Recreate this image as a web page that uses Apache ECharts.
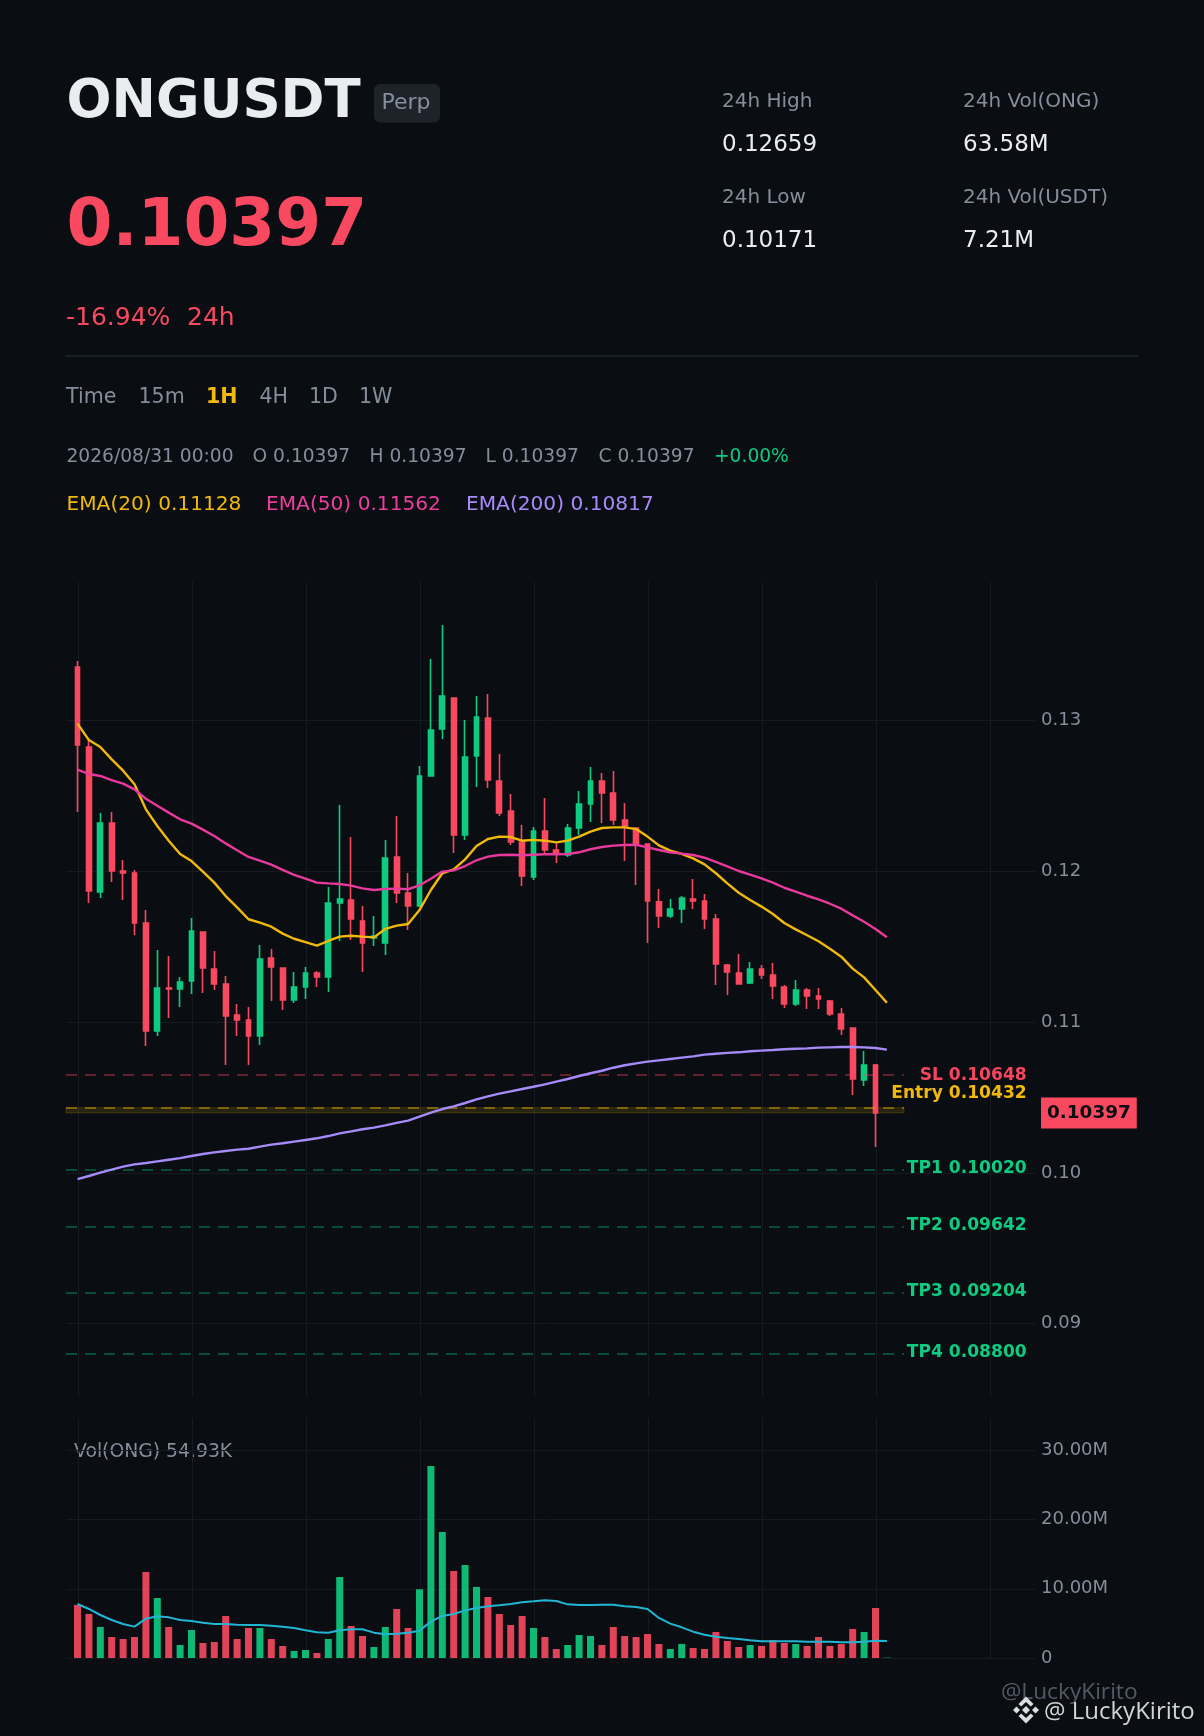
<!DOCTYPE html>
<html>
<head>
<meta charset="utf-8">
<script src="https://cdn.jsdelivr.net/npm/echarts@6/dist/echarts.min.js"></script>
<style>html,body{margin:0;padding:0;background:#0a0d11}#c{width:1204px;height:1736px}</style>
</head>
<body>
<div id="c"></div>
<script>
const opens = [.13353,.12823,.11862,.12319,.12001,.11988,.11656,.10940,.11225,.11219,.11272,.11597,.11351,.11252,.11046,.11013,.10907,.11424,.11358,.11146,.11232,.11325,.11298,.11789,.11809,.11670,.11557,.11524,.12094,.11855,.11769,.12631,.12942,.13148,.12240,.12763,.13015,.12598,.12399,.12193,.11961,.12266,.12140,.12107,.12286,.12445,.12598,.12518,.12339,.12286,.12180,.11796,.11703,.11749,.11815,.11802,.11683,.11378,.11325,.11259,.11351,.11312,.11232,.11119,.11212,.11172,.11139,.11053,.10960,.10616,.10715,.10397];
const closes = [.12836,.11868,.12319,.12001,.11988,.11656,.10940,.11225,.11219,.11265,.11603,.11358,.11252,.11040,.11013,.10907,.11418,.11365,.11146,.11232,.11325,.11298,.11789,.11815,.11683,.11524,.11570,.12087,.11855,.11769,.12631,.12936,.13161,.12240,.12757,.13022,.12604,.12386,.12193,.11968,.12266,.12140,.12114,.12286,.12445,.12598,.12518,.12339,.12293,.12173,.11802,.11703,.11749,.11822,.11802,.11683,.11385,.11331,.11252,.11351,.11312,.11239,.11119,.11212,.11172,.11152,.11053,.10954,.10622,.10715,.10397,.10397];
const lows = [.12392,.11789,.11822,.11928,.11809,.11577,.10841,.10907,.11027,.11099,.11186,.11192,.11212,.10715,.10907,.10715,.10848,.11139,.11080,.11126,.11152,.11232,.11199,.11537,.11544,.11331,.11504,.11444,.11789,.11610,.11760,.12631,.12876,.12120,.12207,.12558,.12551,.12366,.12173,.11902,.11941,.12107,.12054,.12094,.12240,.12326,.12319,.12306,.12067,.11908,.11524,.11623,.11689,.11656,.11749,.11617,.11245,.11179,.11252,.11252,.11285,.11152,.11093,.11106,.11086,.11086,.11040,.10914,.10516,.10576,.10171,.10397];
const highs = [.13393,.12869,.12386,.12392,.12074,.12008,.11742,.11477,.11438,.11298,.11689,.11597,.11471,.11305,.11119,.11099,.11510,.11484,.11358,.11331,.11365,.11338,.11895,.12439,.12226,.11769,.11703,.12207,.12366,.11988,.12697,.13406,.13632,.13148,.13002,.13161,.13174,.12777,.12511,.12306,.12293,.12485,.12187,.12313,.12531,.12690,.12651,.12664,.12452,.12286,.12180,.11882,.11815,.11835,.11948,.11849,.11716,.11385,.11451,.11398,.11378,.11391,.11245,.11278,.11225,.11225,.11146,.11093,.10960,.10808,.10722,.10397];
const volumes = [7.66,6.36,4.48,3.03,2.74,3.03,12.42,8.67,4.48,1.88,4.04,2.17,2.31,6.07,2.74,4.33,4.33,2.74,1.73,1.01,1.16,0.72,2.74,11.70,4.62,3.18,1.59,4.48,7.08,4.33,9.92,27.73,18.20,12.57,13.43,10.26,8.81,6.36,4.77,6.07,4.33,3.03,1.30,1.88,3.32,3.18,1.88,4.48,3.18,3.03,3.47,2.02,1.30,2.02,1.44,1.30,3.76,2.46,1.59,1.88,1.73,2.60,2.17,2.02,1.73,3.03,1.73,2.02,4.19,3.76,7.22,0.055];
const ema20 = [.12978,.12869,.12823,.12741,.12666,.12576,.12410,.12299,.12202,.12114,.12067,.11997,.11924,.11835,.11760,.11681,.11659,.11632,.11586,.11552,.11530,.11506,.11537,.11566,.11572,.11566,.11561,.11617,.11639,.11650,.11742,.11875,.11986,.12012,.12078,.12167,.12213,.12229,.12226,.12202,.12207,.12202,.12191,.12202,.12229,.12262,.12286,.12290,.12290,.12279,.12229,.12171,.12136,.12114,.12085,.12045,.11986,.11919,.11857,.11809,.11765,.11716,.11656,.11614,.11575,.11535,.11486,.11433,.11354,.11296,.11212,.11128];
const ema50 = [.12673,.12644,.12631,.12604,.12580,.12542,.12480,.12434,.12388,.12344,.12315,.12275,.12233,.12184,.12138,.12094,.12070,.12043,.12008,.11975,.11950,.11924,.11919,.11915,.11904,.11886,.11875,.11882,.11884,.11880,.11906,.11950,.11997,.12005,.12034,.12072,.12096,.12107,.12109,.12105,.12109,.12112,.12112,.12114,.12125,.12145,.12160,.12169,.12173,.12175,.12158,.12140,.12125,.12116,.12107,.12089,.12061,.12032,.12001,.11977,.11952,.11924,.11890,.11864,.11837,.11813,.11784,.11751,.11707,.11665,.11617,.11562];
const ema200 = [.09959,.09979,.10001,.10021,.10041,.10056,.10065,.10076,.10087,.10098,.10112,.10125,.10136,.10145,.10154,.10160,.10174,.10187,.10196,.10207,.10218,.10229,.10244,.10262,.10275,.10289,.10300,.10315,.10331,.10346,.10373,.10399,.10423,.10441,.10463,.10487,.10507,.10525,.10540,.10556,.10571,.10587,.10605,.10622,.10642,.10660,.10677,.10697,.10713,.10726,.10737,.10746,.10755,.10764,.10772,.10784,.10790,.10795,.10799,.10806,.10810,.10814,.10819,.10823,.10825,.10830,.10832,.10834,.10834,.10832,.10828,.10817];
const volMa = [7.80,7.08,6.21,5.49,4.91,4.53,5.68,6.02,5.87,5.49,5.34,5.10,4.91,4.91,4.81,4.77,4.77,4.67,4.53,4.33,4.00,3.71,3.66,4.00,4.14,4.14,3.66,3.42,3.51,3.66,3.95,5.25,6.07,6.36,6.88,7.22,7.46,7.61,7.80,8.04,8.18,8.33,8.23,7.75,7.66,7.66,7.68,7.70,7.46,7.37,7.08,5.78,4.96,4.43,3.80,3.37,3.08,2.89,2.74,2.55,2.41,2.41,2.41,2.41,2.36,2.36,2.36,2.26,2.26,2.36,2.50,2.46];
const priceTicks = [0.09,0.10,0.11,0.12,0.13];
const volTicks = [0,10,20,30];
const timeTicks = [0.07,10.07,20.07,30.07,40.07,50.07,60.07,70.07,80.07];
const levels = [
  {name:'SL',value:0.10648,color:'#f6465d',line:'rgba(246,70,93,.5)',dy:0},
  {name:'Entry',value:0.10432,color:'#f0b90b',line:'rgba(240,185,11,.55)',dy:-14},
  {name:'TP1',value:0.10020,color:'#0ecb81',line:'rgba(14,203,129,.45)',dy:-1},
  {name:'TP2',value:0.09642,color:'#0ecb81',line:'rgba(14,203,129,.45)',dy:-1},
  {name:'TP3',value:0.09204,color:'#0ecb81',line:'rgba(14,203,129,.45)',dy:-1},
  {name:'TP4',value:0.08800,color:'#0ecb81',line:'rgba(14,203,129,.45)',dy:-1}
];
const lastPrice = 0.10397;
const RED='#f84960', GREEN='#0ecb81', GRAY='#848e9c', FONT='"DejaVu Sans"';
const xMin=-1.009, xMax=83.991, lineEnd=72.5, labelX=83.26;
const gridColor='#161b22';
const idx = opens.map((_,i)=>i);
const pair = a => a.map((v,i)=>[i,v]);

const xAxisBase = {type:'value',min:xMin,max:xMax,axisLine:{show:false},axisTick:{show:false,customValues:timeTicks},axisLabel:{show:false,customValues:timeTicks},
  splitLine:{show:true,lineStyle:{color:gridColor,width:1}}};

function t(text,x,y,size,fill,weight,family){
  return {type:'text',silent:true,style:{text,x,y,fill,font:`${weight||'normal'} ${size}px ${family||FONT}`,textVerticalAlign:'middle',textAlign:'left'}};
}
const logoFill='#dcdcdc', lx=1026, ly=1710;
function poly(pts){return {type:'polygon',silent:true,shape:{points:pts.map(p=>[lx+p[0],ly+p[1]])},style:{fill:logoFill}};}
const graphics = [
  {type:'rect',silent:true,shape:{x:374,y:84,width:66,height:38.6,r:6},style:{fill:'#1e2329'}},
  {type:'rect',silent:true,shape:{x:65.5,y:355.2,width:1073.5,height:1.6},style:{fill:'#1e2430'}},
  t('ONGUSDT',66.5,103.5,53,'#eaecef','bold'),
  t('Perp',381.5,103,22,GRAY),
  t('0.10397',66.5,227.5,66,RED,'bold'),
  t('-16.94%',66,318,25,RED),
  t('24h',187,318,25,RED),
  t('24h High',722,101.5,20,GRAY), t('24h Vol(ONG)',963,101.5,20,GRAY),
  t('0.12659',722,145,23,'#eaecef'), t('63.58M',963,145,23,'#eaecef'),
  t('24h Low',722,198,20,GRAY), t('24h Vol(USDT)',963,198,20,GRAY),
  t('0.10171',722,241.5,23,'#eaecef'), t('7.21M',963,241.5,23,'#eaecef'),
  t('Time',66,398,20.6,GRAY), t('15m',138.5,398,20.6,GRAY), t('1H',206,398,20.6,'#f0b90b','bold'),
  t('4H',259.5,398,20.6,GRAY), t('1D',309,398,20.6,GRAY), t('1W',359,398,20.6,GRAY),
  t('2026/08/31 00:00',66.5,457,18.65,GRAY), t('O 0.10397',252.5,457,18.65,GRAY), t('H 0.10397',369.5,457,18.65,GRAY),
  t('L 0.10397',485.5,457,18.65,GRAY), t('C 0.10397',598.5,457,18.65,GRAY), t('+0.00%',714,457,18.65,GREEN),
  t('EMA(20) 0.11128',66.5,504.5,20.15,'#f0b90b'), t('EMA(50) 0.11562',266,504.5,20.15,'#ec3e9f'), t('EMA(200) 0.10817',466,504.5,20.15,'#a78bfa'),
  t('Vol(ONG) 54.93K',74,1452,18.8,GRAY),
  t('@LuckyKirito',1001,1693,22.7,'rgba(132,142,156,.6)','normal','"Open Sans"'),
  t('@ LuckyKirito',1044,1712,24,'#d4d4d4','normal','"Open Sans"'),
  poly([[0,-4],[4,0],[0,4],[-4,0]]),
  poly([[-9.5,-3.5],[-6,0],[-9.5,3.5],[-13,0]]),
  poly([[9.5,-3.5],[13,0],[9.5,3.5],[6,0]]),
  poly([[0,-13.5],[7.5,-6],[4.8,-3.4],[0,-8],[-4.8,-3.4],[-7.5,-6]]),
  poly([[0,13.5],[7.5,6],[4.8,3.4],[0,8],[-4.8,3.4],[-7.5,6]])
];

const chart = echarts.init(document.getElementById('c'),null,{renderer:'canvas'});
chart.setOption({
  backgroundColor:'#0a0d11',
  animation:false,
  graphic:graphics,
  grid:[
    {left:66,right:169,top:582,height:815},
    {left:66,right:169,top:1418,height:240}
  ],
  xAxis:[Object.assign({gridIndex:0},xAxisBase),Object.assign({gridIndex:1},xAxisBase)],
  yAxis:[
    {type:'value',gridIndex:0,position:'right',min:0.085141,max:0.139168,
     axisLine:{show:false},axisTick:{show:false,customValues:priceTicks},
     axisLabel:{customValues:priceTicks,color:GRAY,fontSize:18,fontFamily:FONT,margin:6,padding:[4,0,0,0],formatter:v=>v.toFixed(2)},
     splitLine:{show:true,lineStyle:{color:gridColor,width:1}}},
    {type:'value',gridIndex:1,position:'right',min:0,max:34.66,
     axisLine:{show:false},axisTick:{show:false,customValues:volTicks},
     axisLabel:{customValues:volTicks,color:GRAY,fontSize:18,fontFamily:FONT,margin:6,padding:[4,0,0,0],formatter:v=>v===0?'0':v.toFixed(2)+'M'},
     splitLine:{show:true,lineStyle:{color:gridColor,width:1}}}
  ],
  series:[
    {type:'line',name:'Levels',xAxisIndex:0,yAxisIndex:0,data:[],z:1,silent:true,
     markLine:{silent:true,symbol:'none',label:{show:false},animation:false,
       data:levels.map(l=>[{coord:[xMin,l.value],lineStyle:{color:l.line,type:[11,8],width:1.6}},{coord:[lineEnd,l.value]}])},
     markArea:{silent:true,animation:false,itemStyle:{color:'rgba(240,185,11,.13)',borderColor:'rgba(240,185,11,.18)',borderWidth:1},
       data:[[{coord:[xMin,levels[1].value]},{coord:[lineEnd,lastPrice]}]]}},
    {type:'candlestick',name:'ONGUSDT',xAxisIndex:0,yAxisIndex:0,z:2,barWidth:5.4,
     itemStyle:{color:GREEN,color0:RED,borderColor:GREEN,borderColor0:RED,borderColorDoji:GREEN,borderWidth:1.6},
     data:idx.map(i=>{const v=[i,opens[i],closes[i],lows[i],highs[i]];return i===idx.length-1?{value:v,itemStyle:{opacity:0}}:v;})},
    {type:'line',name:'EMA(20)',xAxisIndex:0,yAxisIndex:0,z:5,data:pair(ema20),showSymbol:false,lineStyle:{color:'#f0b90b',width:2.4}},
    {type:'line',name:'EMA(50)',xAxisIndex:0,yAxisIndex:0,z:5,data:pair(ema50),showSymbol:false,lineStyle:{color:'#e8399c',width:2.4}},
    {type:'line',name:'EMA(200)',xAxisIndex:0,yAxisIndex:0,z:5,data:pair(ema200),showSymbol:false,lineStyle:{color:'#a78bfa',width:2.4}},
    {type:'line',name:'Labels',xAxisIndex:0,yAxisIndex:0,data:[],z:6,silent:true,
     markPoint:{silent:true,animation:false,symbol:'rect',symbolSize:0,
       data:levels.map(l=>({coord:[labelX,l.value],label:{show:true,position:'inside',align:'right',verticalAlign:'middle',offset:[0,l.dy],
         formatter:l.name+' '+l.value.toFixed(5),color:l.color,fontWeight:'bold',fontSize:17.1,fontFamily:FONT}})).concat([
         {coord:[xMax,lastPrice],label:{show:true,position:'inside',align:'left',verticalAlign:'middle',offset:[6,0],
           formatter:lastPrice.toFixed(5),color:'#0b0e11',fontWeight:'bold',fontSize:18.4,fontFamily:FONT,
           backgroundColor:RED,padding:[0,6],height:31,lineHeight:31}}])}},
    {type:'bar',name:'Vol',xAxisIndex:1,yAxisIndex:1,barWidth:7,z:2,
     data:idx.map(i=>({value:[i,volumes[i]],itemStyle:{color:closes[i]>=opens[i]?GREEN:RED,opacity:.9}}))},
    {type:'line',name:'Vol MA',xAxisIndex:1,yAxisIndex:1,z:5,data:pair(volMa),showSymbol:false,lineStyle:{color:'#22b5d4',width:2}}
  ]
});
</script>
</body>
</html>
